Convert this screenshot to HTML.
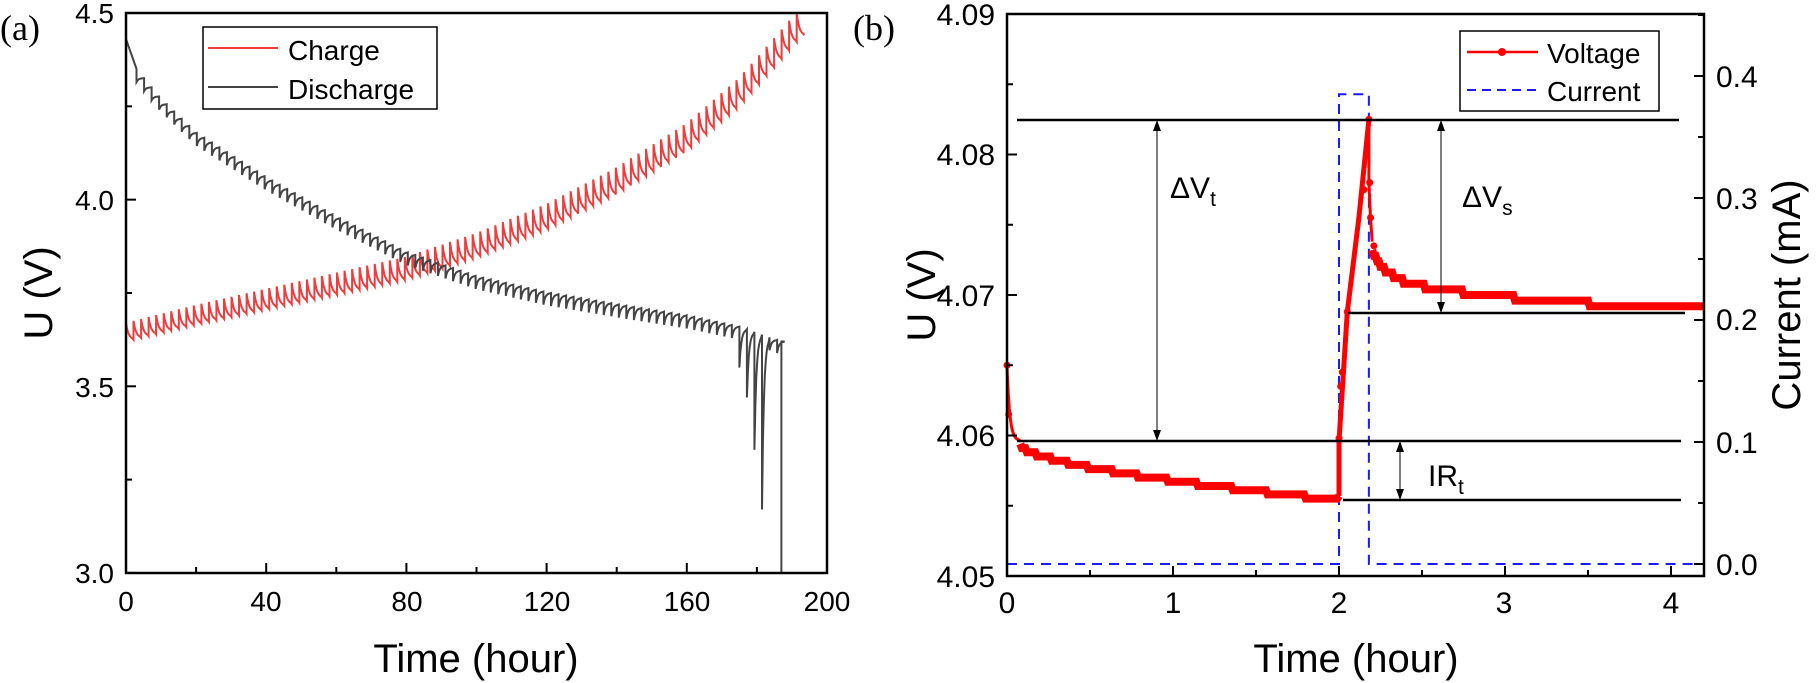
<!DOCTYPE html>
<html><head><meta charset="utf-8">
<style>
html,body{margin:0;padding:0;background:#fff;}
svg{display:block;font-family:"Liberation Sans",Arial,sans-serif;}
</style></head>
<body>
<svg id="s" width="1820" height="683" viewBox="0 0 1820 683" xmlns="http://www.w3.org/2000/svg">
<rect width="1820" height="683" fill="#fff"/>
<g id="a"></g>
<g id="b"></g>
<text x="0" y="40" font-family="Liberation Serif,serif" font-size="36">(a)</text>
<text x="853" y="40" font-family="Liberation Serif,serif" font-size="36">(b)</text>
<g font-size="28" text-anchor="end">
<text x="114" y="23">4.5</text>
<text x="114" y="210">4.0</text>
<text x="114" y="397">3.5</text>
<text x="114" y="583">3.0</text>
</g>
<g font-size="28" text-anchor="middle">
<text x="126" y="611">0</text><text x="266" y="611">40</text><text x="407" y="611">80</text>
<text x="547" y="611">120</text><text x="687" y="611">160</text><text x="827" y="611">200</text>
</g>
<text x="476" y="672" font-size="40" text-anchor="middle">Time (hour)</text>
<text transform="translate(52,293) rotate(-90)" font-size="40" text-anchor="middle">U (V)</text>
<rect x="203" y="27" width="234" height="82" fill="#fff" stroke="#000" stroke-width="1.5"/>
<line x1="208" y1="48" x2="278" y2="48" stroke="#f03c3c" stroke-width="2"/>
<line x1="208" y1="87" x2="278" y2="87" stroke="#444" stroke-width="2"/>
<text x="288" y="60" font-size="28">Charge</text>
<text x="288" y="99" font-size="28">Discharge</text>
<g font-size="30" text-anchor="end">
<text x="995" y="25">4.09</text><text x="995" y="165">4.08</text><text x="995" y="306">4.07</text>
<text x="995" y="446">4.06</text><text x="995" y="587">4.05</text>
</g>
<g font-size="30" text-anchor="start">
<text x="1716" y="87">0.4</text><text x="1716" y="209">0.3</text><text x="1716" y="330">0.2</text>
<text x="1716" y="453">0.1</text><text x="1716" y="575">0.0</text>
</g>
<g font-size="30" text-anchor="middle">
<text x="1007" y="613">0</text><text x="1173" y="613">1</text><text x="1339" y="613">2</text>
<text x="1504" y="613">3</text><text x="1671" y="613">4</text>
</g>
<text x="1356" y="672" font-size="40" text-anchor="middle">Time (hour)</text>
<text transform="translate(935,295) rotate(-90)" font-size="40" text-anchor="middle">U (V)</text>
<text transform="translate(1800,295) rotate(-90)" font-size="40" text-anchor="middle">Current (mA)</text>
</svg>
<script>
var NS="http://www.w3.org/2000/svg";
function el(p,t,a){var e=document.createElementNS(NS,t);for(var k in a)e.setAttribute(k,a[k]);p.appendChild(e);return e;}
function interp(pts,t){if(t<=pts[0][0])return pts[0][1];for(var i=1;i<pts.length;i++){if(t<=pts[i][0]){var a=pts[i-1],b=pts[i];return a[1]+(b[1]-a[1])*(t-a[0])/(b[0]-a[0]);}}return pts[pts.length-1][1];}
var A=document.getElementById('a');
function ax(t){return 126+t*3.505;} function ay(v){return 13+(4.5-v)*373.3;}
var cp=[[0,3.62],[20,3.665],[40,3.705],[60,3.745],[80,3.785],[100,3.845],[120,3.92],[140,4.015],[160,4.13],[175,4.25],[185,4.355],[193,4.44]];
var P=2.15,d="";
for(var t0=0;t0<193;t0+=P){var b0=interp(cp,t0),b1=interp(cp,t0+P),amp=0.05+0.03*t0/193;
 d+=(d?"L":"M")+ax(t0).toFixed(1)+","+ay(b0).toFixed(1);
 for(var k=0;k<=8;k++){var f=k/8,tt=t0+f*P;var v=b1+(b0+amp-b1)*Math.exp(-3*f);
  if(k==8)v=b1; d+="L"+ax(tt).toFixed(1)+","+ay(Math.min(v,4.5)).toFixed(1);}
}
el(A,'path',{d:d,fill:'none',stroke:'#f03c3c','stroke-width':2});
var dp=[[0,4.43],[3,4.35],[10,4.27],[20,4.18],[40,4.06],[60,3.955],[80,3.86],[100,3.795],[120,3.752],[140,3.72],[160,3.69],[175,3.66],[187,3.62]];
d="M"+ax(0)+","+ay(4.43);
for(var k=1;k<=10;k++){var tt=k*0.3;d+="L"+ax(tt).toFixed(1)+","+ay(interp(dp,tt)).toFixed(1);}
var lows=[3.55,3.47,3.33,3.17];var li=0;
for(var t0=3;t0<186;t0+=P){var b0=interp(dp,t0),b1=interp(dp,t0+P),amp=0.035;
 var low=b0-amp; if(t0>175&&li<lows.length){low=lows[li];li++;}
 d+="L"+ax(t0).toFixed(1)+","+ay(b0).toFixed(1)+"L"+ax(t0).toFixed(1)+","+ay(low).toFixed(1);
 for(var k=1;k<=8;k++){var f=k/8,tt=t0+f*P;var v=b1-(b1-low)*Math.exp(-4*f);if(k==8)v=b1;d+="L"+ax(tt).toFixed(1)+","+ay(v).toFixed(1);}
}
d+="L"+ax(187).toFixed(1)+","+ay(3.62)+"L"+ax(187).toFixed(1)+","+ay(3.0);
el(A,'path',{d:d,fill:'none',stroke:'#444','stroke-width':2});
el(A,'rect',{x:126,y:13,width:701,height:560,fill:'none',stroke:'#000','stroke-width':2.5});
for(var t=0;t<=200;t+=20){var x=ax(t),L=(t%40==0)?10:6;el(A,'line',{x1:x,y1:573,x2:x,y2:573-L,stroke:'#000','stroke-width':2});}
for(var v=3.0;v<=4.51;v+=0.25){var y=ay(v),L=(Math.abs(v*2-Math.round(v*2))<0.01)?10:6;el(A,'line',{x1:126,y1:y,x2:126+L,y2:y,stroke:'#000','stroke-width':2});}
var B=document.getElementById('b');
function bx(t){return 1007+t*166;} function by(v){return 576-(v-4.05)*14050;} function cy(c){return 564-c*1220;}
el(B,'path',{d:"M1007,"+cy(0)+"L"+bx(2)+","+cy(0)+"L"+bx(2)+","+cy(0.385)+"L"+bx(2.18)+","+cy(0.385)+"L"+bx(2.18)+","+cy(0)+"L1704,"+cy(0),fill:'none',stroke:'#1a1aff','stroke-width':2,'stroke-dasharray':'10,7'});
function P2(arr){var s="";arr.forEach(function(p,i){s+=(i?"L":"M")+bx(p[0]).toFixed(1)+","+by(p[1]).toFixed(1);});return s;}
var s1=[];
for(var i=0;i<=40;i++){var t=i*0.002;s1.push([t,4.0596+0.0054*Math.exp(-t*60)]);}
var s2=[];
for(var t=0.08;t<=2.0;t+=0.01){var v=4.0596-0.0039*Math.pow((t-0.08)/1.92,0.6)-0.0003;v=Math.round(v*3333)/3333;s2.push([t,v]);}
s2.push([2.0,4.0557]);
var s3=[[2.0,4.0557],[2.0,4.0596],[2.05,4.0688],[2.12,4.0755],[2.18,4.0825]];
var s4=[[2.18,4.0825],[2.18,4.078],[2.19,4.0755],[2.2,4.0738]];
var s5=[];
for(var t=2.2;t<=4.2;t+=0.01){var v=4.0686+0.0026*Math.exp(-(t-2.2)*0.9)+0.002*Math.exp(-(t-2.2)*12);v=Math.round(v*2500)/2500;s5.push([t,v]);}
el(B,'path',{d:P2(s1),fill:'none',stroke:'#f00','stroke-width':3});
el(B,'path',{d:P2(s2),fill:'none',stroke:'#f00','stroke-width':8});
el(B,'path',{d:P2(s3),fill:'none',stroke:'#f00','stroke-width':5});
el(B,'path',{d:P2(s4),fill:'none',stroke:'#f00','stroke-width':3});
el(B,'path',{d:P2(s5),fill:'none',stroke:'#f00','stroke-width':8});
[[0,4.065],[0.01,4.0615],[2,4.0598],[2.01,4.0635],[2.02,4.0645],[2.05,4.0688],[2.15,4.0775],[2.18,4.0825],[2.185,4.078],[2.19,4.0755],[2.21,4.0735]].forEach(function(p){el(B,'circle',{cx:bx(p[0]),cy:by(p[1]),r:3.5,fill:'#f00'});});
function hl(x1,x2,y,w){el(B,'line',{x1:x1,y1:y,x2:x2,y2:y,stroke:'#000','stroke-width':w||2.5});}
hl(1017,1679,120);hl(1017,1681,441);hl(1343,1681,500);hl(1348,1685,313);
function arr(x,y1,y2){el(B,'line',{x1:x,y1:y1+8,x2:x,y2:y2-8,stroke:'#000','stroke-width':1});
 el(B,'path',{d:"M"+x+","+y1+"l-4,11h8z",fill:'#000'});el(B,'path',{d:"M"+x+","+y2+"l-4,-11h8z",fill:'#000'});}
arr(1157,120,441);arr(1441,120,313);arr(1400,441,500);
function lab(x,y,m,s){var t=el(B,'text',{x:x,y:y,'font-size':30});t.textContent=m;var u=el(B,'tspan',{dy:8,'font-size':21});u.textContent=s;t.appendChild(u);}
lab(1170,198,"ΔV","t");lab(1462,207,"ΔV","s");lab(1428,486,"IR","t");
el(B,'rect',{x:1007,y:14,width:697,height:562,fill:'none',stroke:'#000','stroke-width':2.5});
for(var t=0;t<=4.2;t+=0.5){var x=bx(t),L=(Math.abs(t-Math.round(t))<0.01)?10:6;el(B,'line',{x1:x,y1:576,x2:x,y2:576-L,stroke:'#000','stroke-width':2});}
for(var v=4.05;v<=4.0901;v+=0.005){var y=by(v),L=(Math.abs(v*100-Math.round(v*100))<0.01)?10:6;el(B,'line',{x1:1007,y1:y,x2:1007+L,y2:y,stroke:'#000','stroke-width':2});}
for(var c=0;c<=0.45;c+=0.05){var y=cy(c);if(y<14)break;var L=(Math.abs(c*10-Math.round(c*10))<0.01)?10:6;el(B,'line',{x1:1704,y1:y,x2:1704-L,y2:y,stroke:'#000','stroke-width':2});}
el(B,'rect',{x:1460,y:31,width:199,height:80,fill:'#fff',stroke:'#000','stroke-width':1.5});
el(B,'line',{x1:1467,y1:52,x2:1538,y2:52,stroke:'#f00','stroke-width':2.5});
el(B,'circle',{cx:1502,cy:52,r:4,fill:'#f00'});
el(B,'line',{x1:1467,y1:90,x2:1538,y2:90,stroke:'#1a1aff','stroke-width':2,'stroke-dasharray':'9,6'});
var t1=el(B,'text',{x:1547,y:63,'font-size':28});t1.textContent="Voltage";
var t2=el(B,'text',{x:1547,y:101,'font-size':28});t2.textContent="Current";
</script>
</body></html>
